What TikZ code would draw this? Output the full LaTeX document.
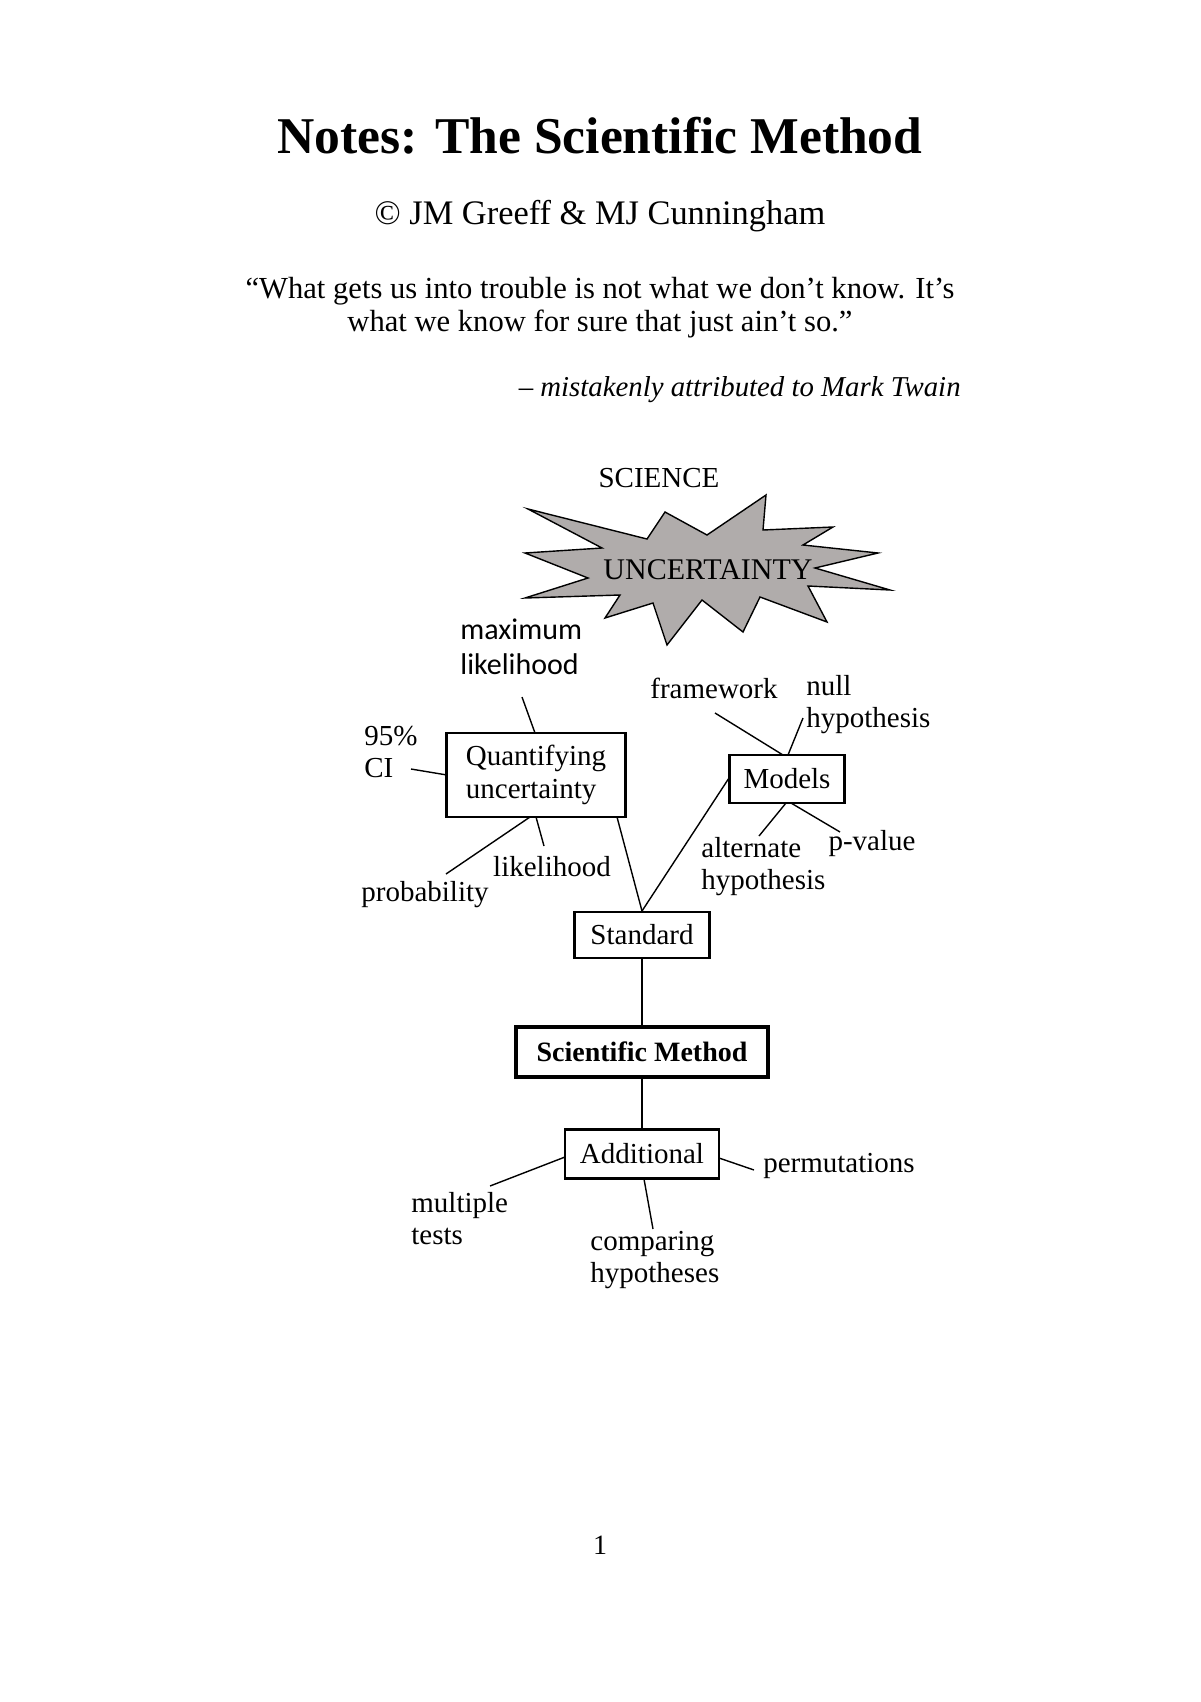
\documentclass[tikz,border=0pt]{standalone}
\usepackage{fontspec}
\setmainfont{Liberation Serif}
\newfontfamily\carlitofont{Carlito}
\begin{document}
\begin{tikzpicture}[x=0.5pt,y=-0.5pt,
  lbl/.style={inner sep=0pt,font=\fontsize{14.5}{16}\selectfont},
  cl/.style={inner sep=0pt,font=\carlitofont\fontsize{15}{17.5}\selectfont,align=left},
  box/.style={draw,line width=1.1pt,inner sep=0pt,font=\fontsize{14.5}{16.5}\selectfont},
  ln/.style={line width=0.7pt}]
\useasboundingbox (0,0) rectangle (1200,1702);
\node[inner sep=0pt,font=\bfseries\fontsize{25.8}{28}\selectfont] (title) at (600,136) {Notes: The Scientific Method};
\node[inner sep=0pt,font=\fontsize{17.2}{19}\selectfont] (copy) at (600,216) {© JM Greeff \& MJ Cunningham};
\node[inner sep=0pt,font=\fontsize{15.3}{16.5}\selectfont,align=center] (quote) at (600,308) {“What gets us into trouble is not what we don't know. It's\\ what we know for sure that just ain't so.”};
\node[inner sep=0pt,anchor=east,font=\itshape\fontsize{14.4}{16}\selectfont] (attr) at (961,390) {– mistakenly attributed to Mark Twain};
\node[lbl] (sci) at (659,478) {SCIENCE};
\draw[ln,fill={rgb,255:red,176;green,172;blue,171}] (528,509)--(647,539)--(665,512)--(707,535)--(766,495)--(763,530)--(833,527)--(803,545)--(878,553)--(815,568)--(890,590)--(808,586)--(827,622)--(760,597)--(743,632)--(702,600)--(667,645)--(653,603)--(605,618)--(620,595)--(525,598)--(588,578)--(525,553)--(602,548)--cycle;
\node[lbl,font=\fontsize{15}{17}\selectfont] (unc) at (708,570) {UNCERTAINTY};
% boxes
\node[box,minimum width=89.5pt,minimum height=42pt,align=left] (quant) at (536,775) {Quantifying\\uncertainty};
\node[box,minimum width=57.5pt,minimum height=24pt] (models) at (787,779) {Models};
\node[box,minimum width=67.5pt,minimum height=23pt] (std) at (642,935) {Standard};
\node[box,line width=1.7pt,minimum width=126pt,minimum height=25pt,font=\bfseries\fontsize{14}{16}\selectfont] (sm) at (642,1052) {Scientific Method};
\node[box,minimum width=77pt,minimum height=24.5pt] (add) at (642,1154) {Additional};
% labels
\node[cl,anchor=north west] (ml) at (460,618) {maximum\\likelihood};
\node[lbl,anchor=north west,align=left] (ci) at (364,726) {95\%\\CI};
\node[lbl] (prob) at (425,895) {probability};
\node[lbl] (lik) at (552,867) {likelihood};
\node[lbl] (fw) at (714,688) {framework};
\node[lbl,anchor=north west,align=left] (null) at (806,675) {null\\hypothesis};
\node[lbl,anchor=north west,align=left] (alt) at (701,837) {alternate\\hypothesis};
\node[lbl] (pv) at (872,844) {p-value};
\node[lbl,anchor=north west,align=left] (mt) at (411,1192) {multiple\\tests};
\node[lbl,anchor=north west,align=left] (cmp) at (590,1231) {comparing\\hypotheses};
\node[lbl] (perm) at (839,1166) {permutations};
% connectors
\coordinate (a1) at (522,697); \draw[ln] (a1)--(535,733);
\draw[ln] (411,769)--(447,775);
\draw[ln] (446,874)--(530,817);
\draw[ln] (536,817)--(544,846);
\draw[ln] (617,817)--(642,911);
\draw[ln] (729,778)--(642,911);
\draw[ln] (715,713)--(783,755);
\draw[ln] (803,718)--(788,755);
\draw[ln] (759,836)--(786,803);
\draw[ln] (791,803)--(840,832);
\draw[line width=1.1pt] (std)--(sm);
\draw[line width=1.1pt] (sm)--(add);
\draw[ln] (490,1186)--(565,1157);
\draw[ln] (644,1179)--(653,1229);
\draw[ln] (719,1158)--(754,1170);
\node[inner sep=0pt,font=\fontsize{14}{16}\selectfont] (pg) at (600,1545) {1};
\end{tikzpicture}
\end{document}
